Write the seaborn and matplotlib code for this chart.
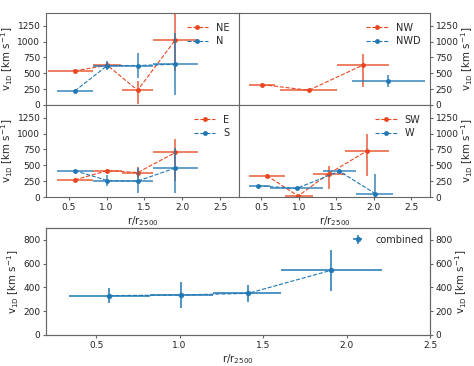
import numpy as np
import pandas as pd
import matplotlib
matplotlib.use('Agg')
import matplotlib.pyplot as plt
import seaborn as sns

# velocity dispersion profiles per direction (km/s)
ne_x = [0.58, 1.01, 1.41, 1.91]
ne_y = [537, 627, 232, 1028]
ne_xlo = [0.23, 0.82, 1.20, 1.62]
ne_xhi = [0.82, 1.19, 1.62, 2.21]
ne_elo = [35, 50, 215, 500]
ne_ehi = [35, 50, 150, 450]

n_x = [0.58, 1.01, 1.41, 1.91]
n_y = [221, 622, 622, 643]
n_xlo = [0.34, 0.82, 1.20, 1.62]
n_xhi = [0.82, 1.20, 1.62, 2.21]
n_elo = [15, 70, 190, 490]
n_ehi = [15, 70, 190, 490]

nw_x = [0.51, 1.13, 1.86]
nw_y = [321, 232, 632]
nw_xlo = [0.33, 0.75, 1.51]
nw_xhi = [0.68, 1.51, 2.20]
nw_elo = [20, 20, 350]
nw_ehi = [20, 20, 170]

nwd_x = [2.19]
nwd_y = [374]
nwd_xlo = [1.71]
nwd_xhi = [2.68]
nwd_elo = [95]
nwd_ehi = [95]

e_x = [0.58, 1.01, 1.41, 1.91]
e_y = [270, 415, 385, 702]
e_xlo = [0.34, 0.82, 1.20, 1.62]
e_xhi = [0.82, 1.20, 1.62, 2.21]
e_elo = [20, 25, 90, 450]
e_ehi = [20, 25, 90, 210]

s_x = [0.58, 1.01, 1.41, 1.91]
s_y = [415, 260, 250, 458]
s_xlo = [0.34, 0.82, 1.20, 1.62]
s_xhi = [0.82, 1.20, 1.62, 2.21]
s_elo = [15, 90, 190, 390]
s_ehi = [15, 90, 210, 310]

sw_x = [0.57, 0.99, 1.40, 1.91]
sw_y = [338, 16, 369, 728]
sw_xlo = [0.33, 0.82, 1.19, 1.61]
sw_xhi = [0.82, 1.19, 1.61, 2.20]
sw_elo = [30, 15, 250, 390]
sw_ehi = [30, 15, 115, 260]

w_x = [0.45, 0.97, 1.54, 2.02]
w_y = [177, 135, 406, 52]
w_xlo = [0.33, 0.62, 1.32, 1.76]
w_xhi = [0.62, 1.32, 1.76, 2.26]
w_elo = [15, 25, 35, 52]
w_ehi = [15, 25, 35, 312]

comb_x = [0.58, 1.01, 1.41, 1.91]
comb_y = [331, 337, 350, 545]
comb_xlo = [0.34, 0.82, 1.20, 1.61]
comb_xhi = [0.82, 1.20, 1.61, 2.21]
comb_err = [62, 107, 73, 173]

RED = '#e8461e'
BLUE = '#1f77b4'
YLAB = r'v$_{\rm 1D}$ [km s$^{-1}$]'
XLAB = r'r/r$_{2500}$'
TICK_FS = 6.5
LAB_FS = 7.4

sns.set_style('ticks')
plt.rcParams['font.family'] = ['DejaVu Sans']
plt.rcParams['axes.edgecolor'] = '#666666'
plt.rcParams['xtick.color'] = '#666666'
plt.rcParams['ytick.color'] = '#666666'
plt.rcParams['xtick.labelcolor'] = '#222222'
plt.rcParams['ytick.labelcolor'] = '#222222'
plt.rcParams['xtick.labelsize'] = TICK_FS
plt.rcParams['ytick.labelsize'] = TICK_FS
plt.rcParams['xtick.major.size'] = 2.5
plt.rcParams['ytick.major.size'] = 2.5
plt.rcParams['xtick.major.pad'] = 2
plt.rcParams['ytick.major.pad'] = 1.5
plt.rcParams['axes.labelpad'] = 1.5


def profile(ax, x, y, xlo, xhi, elo, ehi, color, label):
    df = pd.DataFrame({'r': x, 'v': y})
    sns.lineplot(data=df, x='r', y='v', ax=ax, color=color, linestyle='--',
                 linewidth=0.8, marker='o', markersize=3.5, markeredgewidth=0,
                 label=label, sort=False)
    xerr = [np.array(x) - np.array(xlo), np.array(xhi) - np.array(x)]
    ax.errorbar(x, y, xerr=xerr, yerr=[elo, ehi], fmt='none', ecolor=color,
                elinewidth=1.3, alpha=0.75)


W, H = 474, 366
fig = plt.figure(figsize=(W / 100, H / 100), dpi=100)


def box(l, t, r, b):
    return [l / W, 1 - b / H, (r - l) / W, (b - t) / H]


ax_tl = fig.add_axes(box(46, 13, 239, 105))
ax_tr = fig.add_axes(box(239, 13, 430, 105))
ax_ml = fig.add_axes(box(46, 105, 239, 197))
ax_mr = fig.add_axes(box(239, 105, 430, 197))
ax_b = fig.add_axes(box(46, 228, 430, 335))

profile(ax_tl, ne_x, ne_y, ne_xlo, ne_xhi, ne_elo, ne_ehi, RED, 'NE')
profile(ax_tl, n_x, n_y, n_xlo, n_xhi, n_elo, n_ehi, BLUE, 'N')
profile(ax_tr, nw_x, nw_y, nw_xlo, nw_xhi, nw_elo, nw_ehi, RED, 'NW')
profile(ax_tr, nwd_x, nwd_y, nwd_xlo, nwd_xhi, nwd_elo, nwd_ehi, BLUE, 'NWD')
profile(ax_ml, e_x, e_y, e_xlo, e_xhi, e_elo, e_ehi, RED, 'E')
profile(ax_ml, s_x, s_y, s_xlo, s_xhi, s_elo, s_ehi, BLUE, 'S')
profile(ax_mr, sw_x, sw_y, sw_xlo, sw_xhi, sw_elo, sw_ehi, RED, 'SW')
profile(ax_mr, w_x, w_y, w_xlo, w_xhi, w_elo, w_ehi, BLUE, 'W')

for ax in [ax_tl, ax_tr, ax_ml, ax_mr]:
    ax.set_xlim(0.2, 2.75)
    ax.set_ylim(0, 1450)
    ax.set_yticks([0, 250, 500, 750, 1000, 1250])
    ax.set_xticks([0.5, 1.0, 1.5, 2.0, 2.5])
    ax.legend(loc='upper right', frameon=False, fontsize=7, handlelength=2.2,
              borderaxespad=0.6, labelspacing=0.35)
    ax.set_xlabel('')
    ax.set_ylabel('')

for ax in [ax_tl, ax_ml]:
    ax.set_ylabel(YLAB, fontsize=LAB_FS)
for ax in [ax_tr, ax_mr]:
    ax.yaxis.tick_right()
    ax.yaxis.set_label_position('right')
    ax.set_ylabel(YLAB, fontsize=LAB_FS, labelpad=0.5)
for ax in [ax_tl, ax_tr]:
    ax.tick_params(axis='x', labelbottom=False)
for ax in [ax_ml, ax_mr]:
    ax.set_xlabel(XLAB, fontsize=LAB_FS)

# combined profile
df_c = pd.DataFrame({'r': comb_x, 'v': comb_y})
sns.lineplot(data=df_c, x='r', y='v', ax=ax_b, color=BLUE, linestyle='--',
             linewidth=0.8, sort=False)
cxerr = [np.array(comb_x) - np.array(comb_xlo), np.array(comb_xhi) - np.array(comb_x)]
ax_b.errorbar(comb_x, comb_y, xerr=cxerr, yerr=comb_err, fmt='o', color=BLUE,
              markersize=3, elinewidth=1.3, alpha=0.85, label='combined')
ax_b.set_xlim(0.2, 2.5)
ax_b.set_ylim(0, 900)
ax_b.set_yticks([0, 200, 400, 600, 800])
ax_b.set_xticks([0.5, 1.0, 1.5, 2.0, 2.5])
ax_b.set_xlabel(XLAB, fontsize=LAB_FS)
ax_b.set_ylabel(YLAB, fontsize=LAB_FS)
ax_b.legend(loc='upper right', frameon=False, fontsize=7, borderaxespad=0.3)
ax_r = ax_b.twinx()
ax_r.set_ylim(0, 900)
ax_r.set_yticks([0, 200, 400, 600, 800])
ax_r.set_ylabel(YLAB, fontsize=LAB_FS, labelpad=0.5)
ax_r.spines['right'].set_color('#666666')

fig.savefig('out.png', dpi=100)
